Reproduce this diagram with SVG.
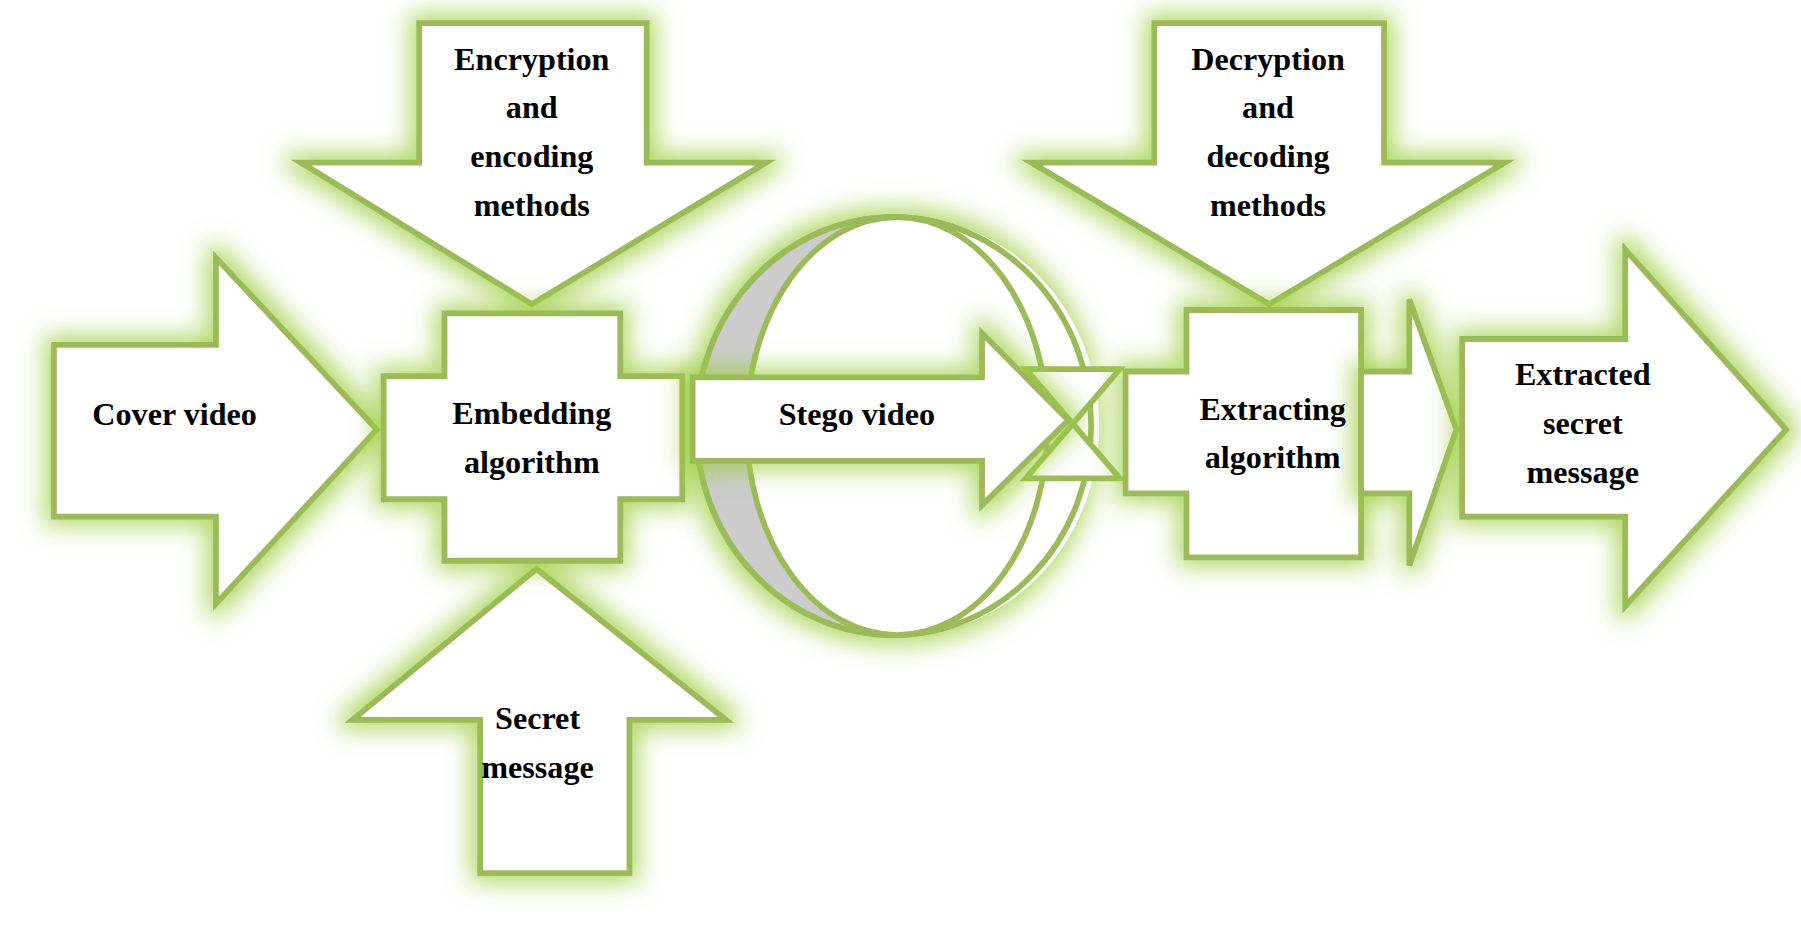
<svg xmlns="http://www.w3.org/2000/svg" width="1801" height="952" viewBox="0 0 1801 952">
<defs>
<filter id="glow" x="-30%" y="-30%" width="160%" height="160%">
<feMorphology in="SourceAlpha" operator="dilate" radius="6" result="d"/>
<feGaussianBlur in="d" stdDeviation="10" result="b"/>
<feFlood flood-color="#9ccc3c" flood-opacity="0.75"/>
<feComposite in2="b" operator="in" result="g"/>
<feMerge><feMergeNode in="g"/><feMergeNode in="SourceGraphic"/></feMerge>
</filter>
<style>
.s{fill:#fff;stroke:#9bbb59;stroke-width:5;stroke-linejoin:miter;filter:url(#glow)}
.l{fill:none;stroke:#9bbb59;stroke-width:5}
.t{font-family:"Liberation Serif",serif;font-weight:bold;font-size:28px;fill:#000;text-anchor:middle}
</style>
</defs>
<rect width="1801" height="952" fill="#fff"/>
<g transform="scale(1.1486 1.161)">
<g id="ring">
<ellipse cx="778" cy="367" rx="172" ry="180" fill="#cccccc" stroke="#9bbb59" stroke-width="5" filter="url(#glow)"/>
<path d="M785,187 A172,180 0 0 1 785,547 Z" fill="#fff"/>
<ellipse class="l" cx="778" cy="367" rx="172" ry="180"/>
<ellipse cx="781" cy="367" rx="131" ry="180" fill="#fff" stroke="#9bbb59" stroke-width="5"/>
<path d="M893,318 H975 L893,412 H975 Z" fill="#fff" stroke="#9bbb59" stroke-width="5" stroke-linejoin="miter"/>
</g>
<g id="cover"><path class="s" d="M47,297 H188 V222 L328,370 L188,520 V445 H47 Z"/><text class="t" x="152" y="366">Cover video</text></g>
<g id="encrypt"><path class="s" d="M365,20 H563 V140 H667 L463,262 L262,140 H365 Z"/>
<text class="t" x="463" y="60">Encryption</text><text class="t" x="463" y="102">and</text><text class="t" x="463" y="144">encoding</text><text class="t" x="463" y="186">methods</text></g>
<g id="secret"><path class="s" d="M467,490 L632,620 H548 V752 H418 V620 H307 Z"/>
<text class="t" x="468" y="628">Secret</text><text class="t" x="468" y="670">message</text></g>
<g id="embed"><path class="s" d="M387,270 H540 V324 H594 V430 H540 V483 H387 V430 H334 V324 H387 Z"/>
<text class="t" x="463" y="365">Embedding</text><text class="t" x="463" y="407">algorithm</text></g>
<g id="stego"><path class="s" d="M603,325 H855 V287 L930,362 L855,435 V397 H603 Z"/><text class="t" x="746" y="366">Stego video</text></g>
<g id="decrypt"><path class="s" d="M1005,20 H1205 V140 H1310 L1105,262 L898,140 H1005 Z"/>
<text class="t" x="1104" y="60">Decryption</text><text class="t" x="1104" y="102">and</text><text class="t" x="1104" y="144">decoding</text><text class="t" x="1104" y="186">methods</text></g>
<g id="extract"><path class="s" d="M1033,267 H1185 V480 H1033 V425 H980 V320 H1033 Z"/>
<path class="s" d="M1185,320 H1227 V258 L1268,370 L1227,487 V425 H1185 Z"/>
<text class="t" x="1108" y="362">Extracting</text><text class="t" x="1108" y="403">algorithm</text></g>
<g id="extracted"><path class="s" d="M1273,292 H1415 V215 L1555,370 L1415,522 V445 H1273 Z"/>
<text class="t" x="1378" y="332">Extracted</text><text class="t" x="1378" y="374">secret</text><text class="t" x="1378" y="416">message</text></g>
<g id="connectors"/>
</g>
</svg>
